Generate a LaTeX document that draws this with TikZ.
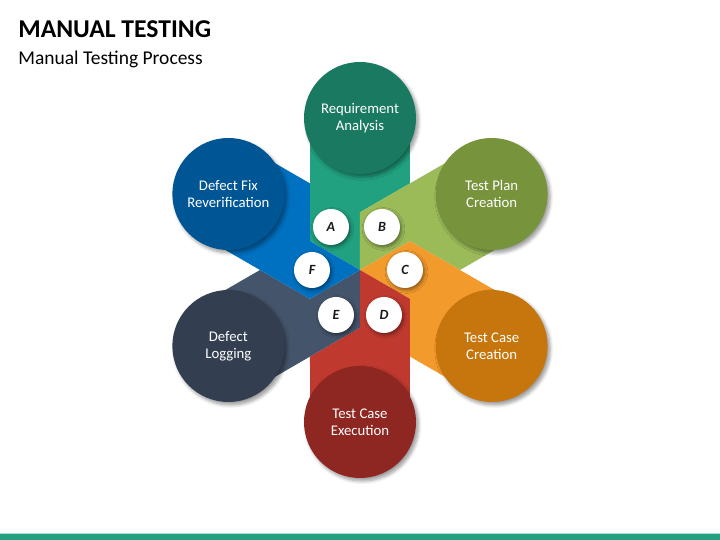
\documentclass[tikz,border=0pt]{standalone}
\usepackage{fontspec}
\setmainfont{Carlito}
\usetikzlibrary{shadows.blur}

\definecolor{tealarm}{HTML}{21A17F}
\definecolor{tealdot}{HTML}{1A7A61}
\definecolor{greenarm}{HTML}{9BBB59}
\definecolor{greendot}{HTML}{77933C}
\definecolor{orangearm}{HTML}{F39A2C}
\definecolor{orangedot}{HTML}{C6760C}
\definecolor{redarm}{HTML}{C0392F}
\definecolor{reddot}{HTML}{8E2622}
\definecolor{slatearm}{HTML}{44546A}
\definecolor{slatedot}{HTML}{333F50}
\definecolor{bluearm}{HTML}{0070C0}
\definecolor{bluedot}{HTML}{005694}
\definecolor{letterink}{HTML}{1A1A1A}

\begin{document}
\begin{tikzpicture}[line cap=round, line join=round, x=1cm, y=1cm,
    bigdot/.style={circle, minimum size=2.24cm, inner sep=0pt, align=center, text=white,
        font=\fontsize{8.4}{9.5}\selectfont,
        blur shadow={shadow xshift=0.05cm, shadow yshift=-0.06cm, shadow opacity=40, shadow blur steps=6}},
    letterdot/.style={circle, fill=white, minimum size=0.72cm, inner sep=0pt, text=letterink,
        font=\fontsize{8}{9}\selectfont\bfseries\itshape,
        blur shadow={shadow xshift=0.03cm, shadow yshift=-0.04cm, shadow opacity=45, shadow blur steps=5}}]

                \useasboundingbox (-7.2,-5.4) rectangle (7.2,5.4);

                \node[anchor=base west, inner sep=0pt, font=\fontsize{14.6}{16}\selectfont\bfseries] (title) at (-6.84,4.654) {MANUAL TESTING};
                \node[anchor=base west, inner sep=0pt, font=\fontsize{11.1}{13}\selectfont] (subtitle) at (-6.84,4.10) {Manual Testing Process};

                % arms, each one cut where the next one lies on it
                \fill[tealarm] (0,0) -- (150:1.1547) -- (108.43:3.1623) -- (71.57:3.1623) -- (60:2) -- (90:1.1547) -- cycle;
                \fill[greenarm] (0,0) -- (90:1.1547) -- (48.43:3.1623) -- (11.57:3.1623) -- (0:2) -- (30:1.1547) -- cycle;
                \fill[orangearm] (0,0) -- (30:1.1547) -- (-11.57:3.1623) -- (-48.43:3.1623) -- (-60:2) -- (-30:1.1547) -- cycle;
                \fill[redarm] (0,0) -- (-30:1.1547) -- (-71.57:3.1623) -- (-108.43:3.1623) -- (-120:2) -- (-90:1.1547) -- cycle;
                \fill[slatearm] (0,0) -- (-90:1.1547) -- (-131.57:3.1623) -- (-168.43:3.1623) -- (180:2) -- (-150:1.1547) -- cycle;
                \fill[bluearm] (0,0) -- (-150:1.1547) -- (168.43:3.1623) -- (131.57:3.1623) -- (120:2) -- (150:1.1547) -- cycle;

                \node[bigdot, fill=tealdot] (req) at (90:3.04) {Requirement\\Analysis};
                \node[bigdot, fill=greendot] (plan) at (30:3.04) {Test Plan\\Creation};
                \node[bigdot, fill=orangedot] (case) at (-30:3.04) {Test Case\\Creation};
                \node[bigdot, fill=reddot] (exec) at (-90:3.04) {Test Case\\Execution};
                \node[bigdot, fill=slatedot] (log) at (-150:3.04) {Defect\\Logging};
                \node[bigdot, fill=bluedot] (fix) at (150:3.04) {Defect Fix\\Reverification};

                \node[letterdot] (a) at (-0.58,0.86) {A};
                \node[letterdot] (b) at (0.44,0.86) {B};
                \node[letterdot] (c) at (0.9,0) {C};
                \node[letterdot] (d) at (0.48,-0.9) {D};
                \node[letterdot] (e) at (-0.48,-0.9) {E};
                \node[letterdot] (f) at (-0.96,0) {F};

                \fill[tealarm] (-7.2,-5.4) rectangle (7.2,-5.28);
                \fill[tealarm!35] (-7.2,-5.28) rectangle (7.2,-5.26);

            \end{tikzpicture}
\end{document}
